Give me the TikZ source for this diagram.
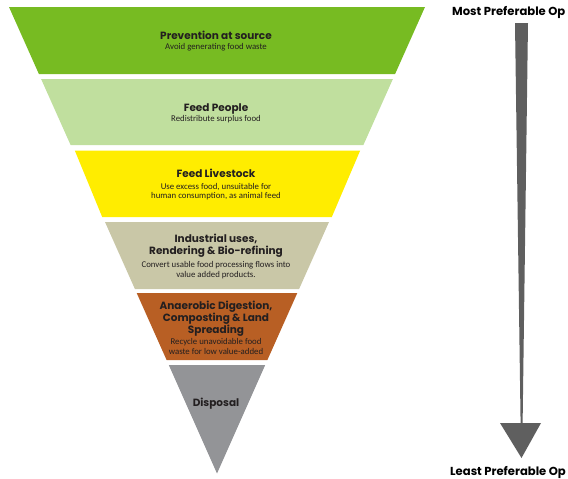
\documentclass[tikz,border=0pt]{standalone}
\usepackage{fontspec}
\newfontfamily\tfont{Poppins}
\newfontfamily\sfont{Carlito}
\definecolor{cA}{HTML}{77BB22}
\definecolor{cB}{HTML}{C0DF9E}
\definecolor{cC}{HTML}{FFED00}
\definecolor{cD}{HTML}{C9C7A7}
\definecolor{cE}{HTML}{B85F24}
\definecolor{cF}{HTML}{939497}
\definecolor{txt}{HTML}{231F20}
\definecolor{arr}{HTML}{5F5F5F}
\tikzset{
  ttl/.style={anchor=base, inner sep=0pt, text=txt, font=\tfont\bfseries\fontsize{10.5}{12}\selectfont},
  sub/.style={anchor=base, inner sep=0pt, text=txt, font=\sfont\fontsize{8.8}{10}\selectfont},
  side/.style={anchor=base west, inner sep=0pt, text=black, font=\tfont\bfseries\fontsize{11.6}{13}\selectfont},
}
\begin{document}
\begin{tikzpicture}[x=1pt,y=-1pt]
\useasboundingbox (0,0) rectangle (568,479);
% bands
\fill[cA] (9,7) -- (425,7) -- (395.1,74) -- (38.9,74) -- cycle;
\fill[cB] (41.1,79) -- (392.9,79) -- (363.4,145) -- (70.6,145) -- cycle;
\fill[cC] (74.8,150.5) -- (360.2,150.5) -- (331.8,217) -- (102.2,217) -- cycle;
\fill[cD] (105,222) -- (329,222) -- (299.1,289) -- (134.9,289) -- cycle;
\fill[cE] (136.7,293) -- (297.3,293) -- (267.4,360) -- (166.6,360) -- cycle;
\fill[cF] (168.8,365) -- (265.2,365) -- (217,473.5) -- cycle;
% labels
\node[ttl] (t1) at (216,39) {Prevention at source};
\node[sub] (s1) at (216,49.5) {Avoid generating food waste};
\node[ttl] (t2) at (216,111) {Feed People};
\node[sub] (s2) at (216,121) {Redistribute surplus food};
\node[ttl] (t3) at (216,177.5) {Feed Livestock};
\node[sub] (s3a) at (216,189) {Use excess food, unsuitable for};
\node[sub] (s3b) at (216,198.5) {human consumption, as animal feed};
\node[ttl] (t4a) at (216,242.5) {Industrial uses,};
\node[ttl] (t4b) at (216,254.5) {Rendering \& Bio-refining};
\node[sub] (s4a) at (216,267.5) {Convert usable food processing flows into};
\node[sub] (s4b) at (216,277) {value added products.};
\node[ttl] (t5a) at (216,309) {Anaerobic Digestion,};
\node[ttl] (t5b) at (216,321) {Composting \& Land};
\node[ttl] (t5c) at (216,333.5) {Spreading};
\node[sub] (s5a) at (216,344.5) {Recycle unavoidable food};
\node[sub] (s5b) at (216,354) {waste for low value-added};
\node[ttl] (t6) at (216,406) {Disposal};
% arrow
\coordinate (shl) at (515,23);
\coordinate (shr) at (528,23);
\fill[arr] (shl) -- (shr) -- (522.6,424) -- (520.6,424) -- cycle;
\fill[arr] (500,423) -- (541,423) -- (521.5,458) -- cycle;
\node[side] (most) at (452,16) {Most Preferable Op};
\node[side] (least) at (450,475) {Least Preferable Op};
\end{tikzpicture}
\end{document}
